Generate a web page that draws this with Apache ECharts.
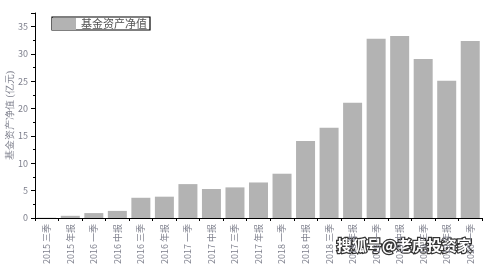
<!DOCTYPE html>
<html>
<head>
    <meta charset="utf-8">
    <title>Chart</title>
    <script src="https://cdn.jsdelivr.net/npm/echarts@6/dist/echarts.min.js"></script>
    <style>
        html, body { margin: 0; padding: 0; background: #fff; }
        #main { width: 488px; height: 264px; }
    </style>
</head>
<body>
    <div id="main"></div>
    <script type="text/javascript">
        // 报告期
        var periods = ['2015 三季', '2015 年报', '2016 一季', '2016 中报', '2016 三季', '2016 年报',
            '2017 一季', '2017 中报', '2017 三季', '2017 年报', '2018 一季', '2018 中报',
            '2018 三季', '2018 年报', '2019 一季', '2019 中报', '2019 三季', '2019 年报', '2020 一季'];
        // 基金资产净值 (亿元)
        var netAssets = [0.05, 0.4, 0.9, 1.3, 3.7, 3.9, 6.2, 5.3, 5.6, 6.5, 8.1, 14.1, 16.5,
            21.1, 32.8, 33.3, 29.1, 25.1, 32.4];
        var seriesName = '基金资产净值';
        var yName = '基金资产净值 (亿元)';
        var watermark = '搜狐号@老虎投资家';

        var myChart = echarts.init(document.getElementById('main'));
        var labelColor = '#7d7f8c';
        var cjk = '"Noto Sans CJK SC", "Liberation Sans", sans-serif';

        var option = {
            animation: false,
            textStyle: { fontFamily: cjk },
            grid: { left: 35, right: 6, top: 13, bottom: 46, outerBoundsMode: 'none', containLabel: false },
            legend: {
                left: 52,
                top: 17,
                padding: [1, 3, 0, 0],
                borderColor: '#000',
                borderWidth: 1.2,
                itemWidth: 24,
                itemHeight: 12,
                itemGap: 4,
                icon: 'rect',
                textStyle: { color: '#555', fontSize: 11, fontFamily: cjk },
                data: [seriesName]
            },
            xAxis: {
                type: 'category',
                data: periods,
                axisLine: { lineStyle: { color: '#000', width: 1 } },
                axisTick: { show: true, length: 3, lineStyle: { color: '#000' } },
                axisLabel: {
                    rotate: 90,
                    interval: 0,
                    color: labelColor,
                    fontSize: 9,
                    margin: 6
                }
            },
            yAxis: {
                type: 'value',
                min: 0,
                max: 37.5,
                interval: 5,
                name: yName,
                nameLocation: 'middle',
                nameGap: 20,
                nameMoveOverlap: false,
                nameTextStyle: { color: labelColor, fontSize: 10, fontFamily: 'serif' },
                axisLine: { show: true, lineStyle: { color: '#000', width: 1 } },
                axisTick: { show: true, length: 4, lineStyle: { color: '#000' } },
                minorTick: { show: true, splitNumber: 2, length: 2, lineStyle: { color: '#000' } },
                splitLine: { show: false },
                axisLabel: {
                    color: labelColor,
                    fontSize: 9,
                    margin: 7,
                    formatter: function (v) { return v % 5 === 0 ? String(v) : ''; }
                }
            },
            graphic: [{
                type: 'text',
                right: 15,
                bottom: 10,
                style: {
                    text: watermark,
                    fill: '#fff',
                    stroke: '#333',
                    lineWidth: 2.5,
                    font: 'bold 15px "Noto Sans CJK SC", sans-serif'
                }
            }],
            series: [{
                name: seriesName,
                type: 'bar',
                data: netAssets,
                barWidth: 19,
                itemStyle: { color: '#b3b3b3' }
            }]
        };
        myChart.setOption(option);
    </script>
</body>
</html>
